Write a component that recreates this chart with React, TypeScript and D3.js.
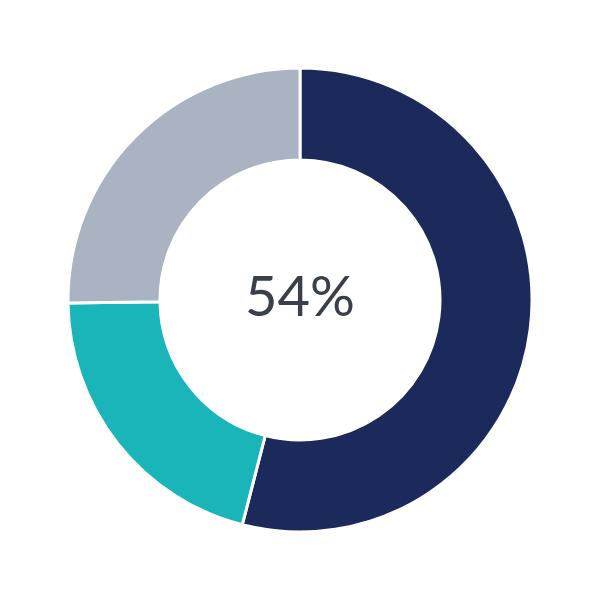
import { useEffect, useRef } from "react";
import * as d3 from "d3";

const WIDTH = 600;
const HEIGHT = 600;
const OUTER = 232;
const INNER = 140;

const labels = ["Navy", "Teal", "Gray"];
const values = [54, 20.8, 25.2];
const colors = ["#1b2a5a", "#1ab5b8", "#a9b3c1"];
const centerLabel = "54%";

const App = () => {
  const svgRef = useRef<SVGSVGElement | null>(null);

  useEffect(() => {
    const svg = d3.select(svgRef.current);
    svg.selectAll("*").remove();

    const g = svg
      .append("g")
      .attr("transform", `translate(${WIDTH / 2}, ${HEIGHT / 2})`);

    const pie = d3
      .pie<number>()
      .sort(null)
      .value((d) => d);

    const arc = d3.arc<d3.PieArcDatum<number>>().innerRadius(INNER).outerRadius(OUTER);

    g.selectAll("path")
      .data(pie(values))
      .enter()
      .append("path")
      .attr("d", arc)
      .attr("fill", (_, i) => colors[i])
      .attr("stroke", "#ffffff")
      .attr("stroke-width", 3)
      .append("title")
      .text((_, i) => labels[i]);

    g.append("text")
      .attr("text-anchor", "middle")
      .attr("y", 16)
      .attr("font-family", "Lato, 'Open Sans', sans-serif")
      .attr("font-size", 56)
      .attr("fill", "#3a4049")
      .text(centerLabel);
  }, []);

  return (
    <svg
      ref={svgRef}
      width={WIDTH}
      height={HEIGHT}
      style={{ position: "absolute", left: 0, top: 0, background: "#ffffff" }}
    />
  );
};

export default App;
